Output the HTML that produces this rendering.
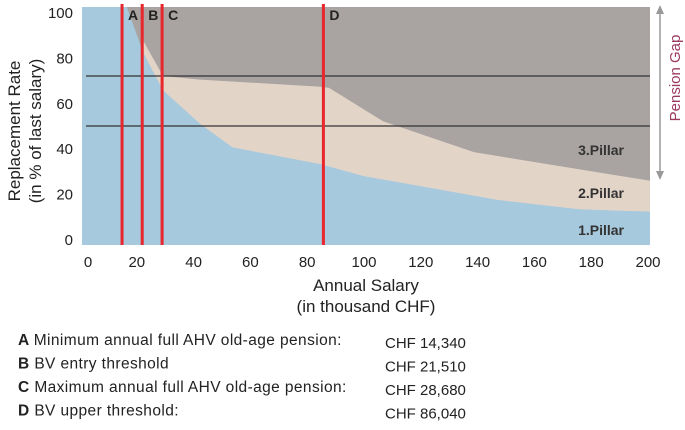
<!DOCTYPE html>
<html><head><meta charset="utf-8"><style>
body{margin:0;background:#fff;width:685px;height:425px;overflow:hidden;font-family:"Liberation Sans",sans-serif;}
svg text{font-family:"Liberation Sans",sans-serif;}
</style></head><body>
<svg width="685" height="425">
<g id="plot"></g>
</svg>
<script>
const xTicks=[0,20,40,60,80,100,120,140,160,180,200];
const yTicks=[0,20,40,60,80,100];
const pillar1X=[0,15.8,21.5,28.5,41.5,53,84,87,99,146,175,200];
const pillar1Y=[100,100,81,65,51,41,34,33,29,19,15,14];
const pillar2X=[21.5,28.5,41.5,84,87,106,138,200];
const pillar2Y=[86,71,69.5,66.5,66,52,39,27];
const thresholdNames=["A","B","C","D"];
const thresholdVals=[14.1,21.2,28.2,85];
const refLines=[71,50];
const x=v=>82+2.84*v;
const y=v=>245-2.38*v;
const yl=v=>245-2.27*v;
const NS="http://www.w3.org/2000/svg";
const g=document.getElementById('plot');
function mk(tag,attrs,txt){const e=document.createElementNS(NS,tag);for(const k in attrs)e.setAttribute(k,attrs[k]);if(txt!==undefined)e.textContent=txt;g.appendChild(e);return e;}
let e=mk('rect',{x:x(0),y:y(100),width:x(200)-x(0),height:y(0)-y(100),fill:'#a9a3a1'});


function interp(xs,ys,v){for(let i=0;i<xs.length-1;i++){if(v>=xs[i]&&v<=xs[i+1]){return ys[i]+(ys[i+1]-ys[i])*(v-xs[i])/(xs[i+1]-xs[i]);}}return ys[ys.length-1];}
let d='M'+x(pillar2X[0])+','+y(interp(pillar1X,pillar1Y,pillar2X[0]));
pillar2X.forEach((v,i)=>d+=' L'+x(v)+','+y(pillar2Y[i]));
d+=' L'+x(200)+','+y(0)+' L'+x(pillar2X[0])+','+y(0)+'Z';
e=mk('path',{d:d,fill:'#e3d4c8'});


d='M'+x(0)+','+y(0);
pillar1X.forEach((v,i)=>d+=' L'+x(v)+','+y(pillar1Y[i]));
d+=' L'+x(200)+','+y(0)+'Z';
e=mk('path',{d:d,fill:'#a6c9dd'});


refLines.forEach(v=>{const l=mk('line',{x1:x(0)+4,x2:x(200),y1:y(v),y2:y(v),stroke:'#333','stroke-width':1.2});

});
thresholdNames.forEach((n,i)=>{const l=mk('line',{x1:x(thresholdVals[i]),x2:x(thresholdVals[i]),y1:y(100)-3,y2:y(0),stroke:'#e8262b','stroke-width':3});


const t=mk('text',{x:x(thresholdVals[i])+6,y:y(100)+13,'font-size':14,'font-weight':'bold',fill:'#222'},n);

});
xTicks.forEach(v=>{const t=mk('text',{x:v===0?x(v)+6:x(v)-2,y:267,'font-size':15,'text-anchor':'middle',fill:'#222'},v);

});
yTicks.forEach(v=>{const t=mk('text',{x:73,y:yl(v),'font-size':15,'text-anchor':'end',fill:'#222'},v);

});
[['3.Pillar',150],['2.Pillar',193],['1.Pillar',230]].forEach(p=>{const t=mk('text',{x:624,y:p[1]+5,'font-size':14,'font-weight':'bold','text-anchor':'end',fill:'#333'},p[0]);

});
e=mk('line',{x1:660,x2:660,y1:8,y2:176,stroke:'#999','stroke-width':1.5});


mk('path',{d:'M656,14 L660,5 L664,14Z',fill:'#999'});
mk('path',{d:'M656,171 L660,180 L664,171Z',fill:'#999'});
e=mk('text',{x:0,y:0,'font-size':15,fill:'#9b3a5f','text-anchor':'middle',transform:'translate(680,78) rotate(-90)'},'Pension Gap');


e=mk('text',{x:0,y:0,'font-size':17,fill:'#222','text-anchor':'middle',transform:'translate(20,131) rotate(-90)'},'Replacement Rate');


e=mk('text',{x:0,y:0,'font-size':17,fill:'#222','text-anchor':'middle',transform:'translate(41,131) rotate(-90)'},'(in % of last salary)');


e=mk('text',{x:366,y:291,'font-size':17,fill:'#222','text-anchor':'middle'},'Annual Salary');


e=mk('text',{x:366,y:312,'font-size':17,fill:'#222','text-anchor':'middle'},'(in thousand CHF)');


const notes=[['A','Minimum annual full AHV old-age pension:','CHF 14,340'],['B','BV  entry  threshold','CHF 21,510'],['C','Maximum annual full AHV  old-age  pension:','CHF 28,680'],['D','BV  upper  threshold:','CHF 86,040']];
notes.forEach((n,i)=>{const yy=345+i*23.5;
let t=mk('text',{x:18,y:yy,'font-size':15.5,fill:'#222','letter-spacing':'0.4','xml:space':'preserve'});


const b=document.createElementNS(NS,'tspan');b.setAttribute('font-weight','bold');b.textContent=n[0]+' ';t.appendChild(b);
const r=document.createElementNS(NS,'tspan');r.textContent=n[1];t.appendChild(r);
t=mk('text',{x:385,y:yy+3,'font-size':15,fill:'#222'},n[2]);

});
</script>
</body></html>
